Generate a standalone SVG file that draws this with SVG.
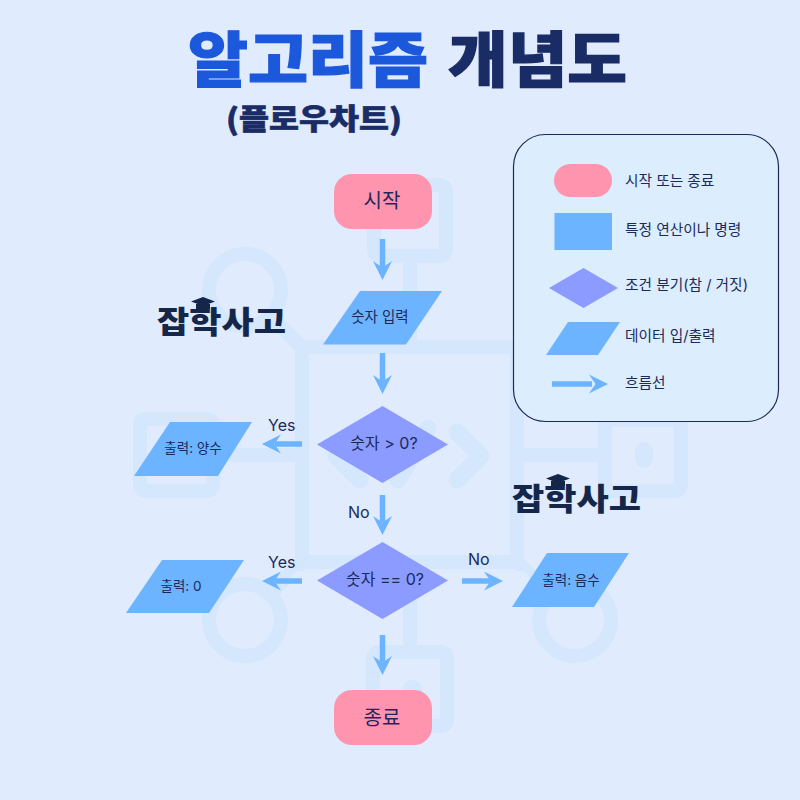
<svg xmlns="http://www.w3.org/2000/svg" width="800" height="800" viewBox="0 0 800 800">
<style>
text{font-family:"Inter","Noto Sans CJK KR",sans-serif;fill:#1b2a5a}
.wm{fill:none;stroke:#d5e7fd;stroke-width:14;stroke-linejoin:round}
.wc{stroke-linecap:round;stroke-width:17}
.pk{fill:#ff94ae}.bl{fill:#6cb4ff}.pu{fill:#8b9bff}
.m{text-anchor:middle;dominant-baseline:central}
.s13{font-size:13.500px}.s14{font-size:14.500px}.s16{font-size:16px}.s19{font-size:20px}
.lg{font-size:14.700px;dominant-baseline:central}
.ttl{font-weight:900;font-family:"Noto Sans CJK KR",sans-serif}
.logo{font-family:"Noto Sans CJK KR",sans-serif;font-weight:900;font-size:31px;fill:#14274a}
.head{fill:#6cb4ff}
.ln{stroke:#6cb4ff;stroke-width:5.500;fill:none}
</style>
<defs>
<path id="ah" d="M0 0L-19 -9.500L-12.500 0L-19 9.500Z" class="head"/>
<g id="cap"><path d="M0 -4L12 0.500L0 5L-12 0.500Z" fill="#14274a"/><path d="M-7 3H7V8H-7Z" fill="#14274a"/></g>
</defs>
<rect id="bg" width="800" height="800" fill="#e0ebfd"/>
<g id="watermark">
<rect class="wm" x="374" y="185" width="72" height="71" rx="6"/>
<path class="wm" d="M410 256V347M295 347H520M302 347V562H517V347"/>
<circle class="wm" cx="245" cy="290" r="36" stroke-width="15"/>
<path class="wm" d="M270 316L302 347"/>
<rect class="wm" x="140" y="419" width="73" height="72" rx="6"/>
<path class="wm" d="M213 455H302"/>
<path class="wm" d="M517 455H605"/>
<rect class="wm" x="605" y="420" width="76" height="71" rx="6"/>
<rect x="635" y="442" width="18" height="26" rx="9" fill="#d5e7fd"/>
<path class="wm wc" d="M457 432L481 456L457 480M360 432L336 456L360 480M428 428L398 480"/>
<path class="wm" d="M272 592L302 562M517 562L548 592"/>
<rect x="290" y="571" width="240" height="30" rx="10" fill="#e0ebfd"/>
<circle class="wm" cx="245" cy="620" r="36"/>
<circle class="wm" cx="575" cy="620" r="36"/>
<path class="wm" d="M410 600V652"/>
<rect class="wm" x="373" y="652" width="74" height="74" rx="6"/>
<rect x="403" y="680" width="19" height="32" rx="9" fill="#d5e7fd"/>
</g>
<g id="title">
<text class="ttl" x="188" y="82" font-size="60" textLength="240" lengthAdjust="spacingAndGlyphs" style="fill:#1c58dc" stroke="#1c58dc" stroke-width="1.200">알고리즘</text>
<text class="ttl" x="448" y="82" font-size="60" textLength="179" lengthAdjust="spacingAndGlyphs" stroke="#1a2c66" stroke-width="1.200" style="fill:#1a2c66">개념도</text>
<text class="ttl" x="226" y="130" font-size="29" textLength="176" lengthAdjust="spacingAndGlyphs" stroke="#1a2c66" stroke-width=".6" style="fill:#1a2c66">(플로우차트)</text>
</g>
<g id="legend">
<rect x="513.500" y="134.500" width="265" height="287" rx="32" fill="#dcedfe" stroke="#1b2a5a" stroke-width="1.200"/>
<rect class="pk" x="554" y="164" width="58" height="33" rx="16.500"/>
<text class="lg" x="625" y="181">시작 또는 종료</text>
<rect class="bl" x="554.500" y="213" width="57.500" height="37"/>
<text class="lg" x="625" y="230">특정 연산이나 명령</text>
<path class="pu" d="M583.500 268L618 288L583.500 308L549 288Z"/>
<text class="lg" x="625" y="285">조건 분기(참 / 거짓)</text>
<path class="bl" d="M568 322H620L598 355H546Z"/>
<text class="lg" x="625" y="336">데이터 입/출력</text>
<path class="ln" d="M552 384H592"/>
<use href="#ah" transform="translate(608 384)"/>
<text class="lg" x="625" y="383">흐름선</text>
</g>
<g id="connectors">
<path class="ln" d="M382.500 239V268M382.500 353V382M382.500 495V522M382.500 635V662M302 444H275M302 581H275M462 581H490"/>
<use href="#ah" transform="translate(382.500 280) rotate(90)"/>
<use href="#ah" transform="translate(382.500 394) rotate(90)"/>
<use href="#ah" transform="translate(382.500 535) rotate(90)"/>
<use href="#ah" transform="translate(382.500 675) rotate(90)"/>
<use href="#ah" transform="translate(262 444) rotate(180)"/>
<use href="#ah" transform="translate(262 581) rotate(180)"/>
<use href="#ah" transform="translate(503 581)"/>
<text class="s16" x="268" y="431">Yes</text>
<text class="s16" x="268" y="568">Yes</text>
<text class="s16" x="348" y="518">No</text>
<text class="s16" x="468" y="565">No</text>
</g>
<g id="start"><rect class="pk" x="334" y="174" width="98" height="55" rx="18"/><text class="m s19" x="382" y="201">시작</text></g>
<g id="input"><path class="bl" d="M360 291H442L406 344.500H323Z"/><text class="m s14" x="380" y="316">숫자 입력</text></g>
<g id="cond1"><path class="pu" d="M382.500 406L448 444.500L382.500 483L317 444.500Z"/><text class="m s16" x="384" y="443">숫자 &gt; 0?</text></g>
<g id="cond2"><path class="pu" d="M382.500 542L448 580.500L382.500 619L317 580.500Z"/><text class="m s16" x="385" y="579">숫자 == 0?</text></g>
<g id="outPos"><path class="bl" d="M170 422H252L218 476H134Z"/><text class="m s13" x="193" y="448">출력: 양수</text></g>
<g id="outZero"><path class="bl" d="M162 560H244L209 613H126Z"/><text class="m s13" x="181" y="586">출력: 0</text></g>
<g id="outNeg"><path class="bl" d="M547 553H629L594 607H512Z"/><text class="m s13" x="571" y="580">출력: 음수</text></g>
<g id="end"><rect class="pk" x="334" y="690" width="98" height="55" rx="18"/><text class="m s19" x="382" y="718">종료</text></g>
<g id="logo1" transform="translate(158 300)">
<text class="logo" x="-1" y="33" textLength="129" lengthAdjust="spacingAndGlyphs">잡학사고</text>
<use href="#cap" transform="translate(45 1)"/>
</g>
<g id="logo2" transform="translate(513 477)">
<text class="logo" x="-1" y="33" textLength="129" lengthAdjust="spacingAndGlyphs">잡학사고</text>
<use href="#cap" transform="translate(45 1)"/>
</g>
</svg>
